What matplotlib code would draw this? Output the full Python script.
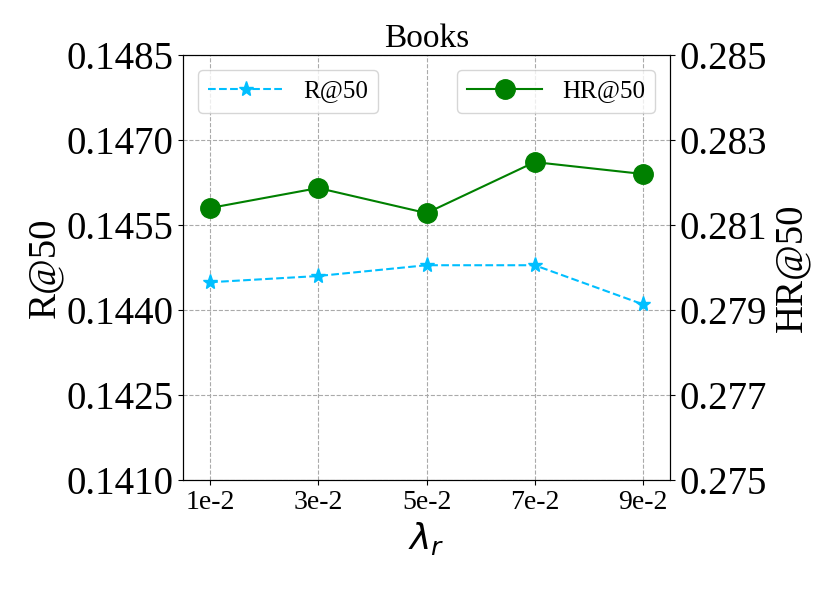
import matplotlib
matplotlib.use("Agg")
import matplotlib.pyplot as plt

plt.rcParams['font.family'] = ['Liberation Serif']
plt.rcParams['mathtext.fontset'] = 'dejavusans'

xlabels = ["1e-2", "3e-2", "5e-2", "7e-2", "9e-2"]
r50 = [0.14449, 0.14460, 0.14479, 0.14479, 0.14410]
hr50 = [0.28140, 0.28187, 0.28128, 0.28248, 0.28220]

fig = plt.figure(figsize=(8.3, 5.93), dpi=100)
ax = fig.add_axes([183/830, 1-480/593, (670-183)/830, (480-55)/593])
x = list(range(len(xlabels)))
l1, = ax.plot(x, r50, '--', color='#00bfff', marker='*', markersize=11, label='R@50')
ax.set_ylim(0.1410, 0.1485)
ax.set_yticks([0.1410, 0.1425, 0.1440, 0.1455, 0.1470, 0.1485])
ax.set_yticklabels(["%.4f" % v for v in [0.1410, 0.1425, 0.1440, 0.1455, 0.1470, 0.1485]])
ax.set_xticks(x)
ax.set_xticklabels(xlabels)
ax.set_xlim(-0.25, 4.25)
ax.grid(True, linestyle='--', color='#aaaaaa')
ax.tick_params(axis='y', labelsize=28)
ax.tick_params(axis='x', labelsize=20)
ax.set_ylabel('R@50', fontsize=28, labelpad=2)
ax.set_xlabel(r'$\lambda_r$', fontsize=26)
ax.set_title('Books', fontsize=24)

ax2 = ax.twinx()
l2, = ax2.plot(x, hr50, '-', color='green', marker='o', markersize=14, label='HR@50')
ax2.set_ylim(0.275, 0.285)
ax2.set_yticks([0.275, 0.277, 0.279, 0.281, 0.283, 0.285])
ax2.set_yticklabels(["%.3f" % v for v in [0.275, 0.277, 0.279, 0.281, 0.283, 0.285]])
ax2.tick_params(axis='y', labelsize=28)
ax2.set_ylabel('HR@50', fontsize=28)

ax.legend(handles=[l1], loc='upper left', fontsize=18, borderaxespad=0.6, handlelength=3)
ax2.legend(handles=[l2], loc='upper right', fontsize=18, borderaxespad=0.6, handlelength=3)

fig.savefig('out.png', dpi=100)
